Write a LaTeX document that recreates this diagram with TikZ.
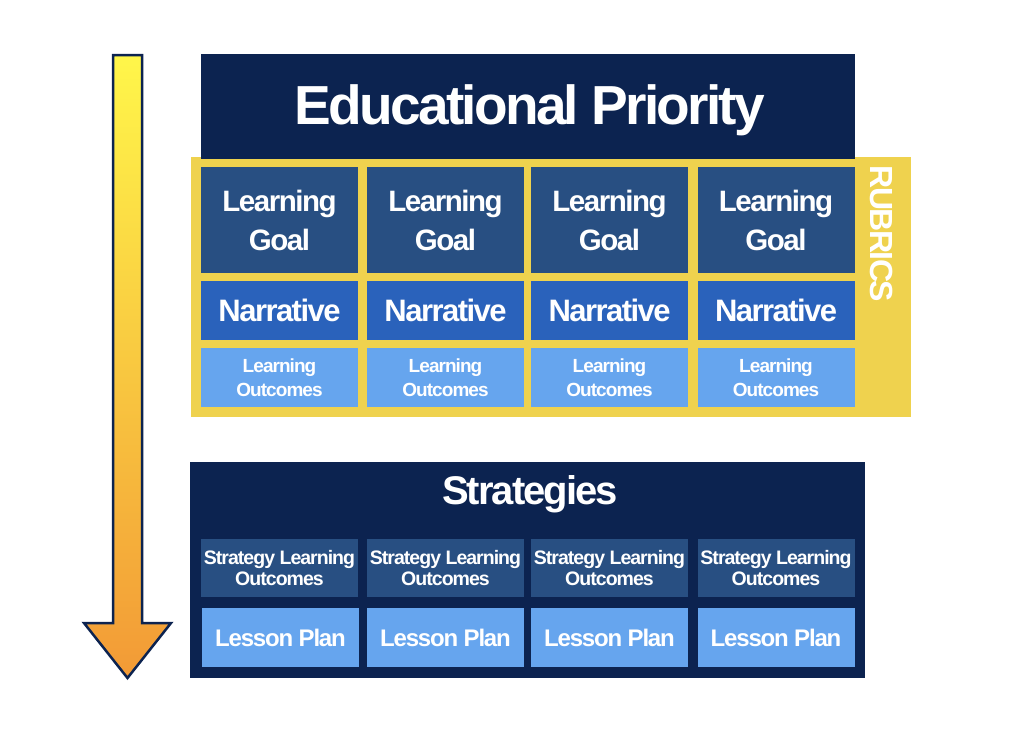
\documentclass[tikz,border=0pt]{standalone}
\usepackage{fontspec}
\setmainfont{Liberation Sans}[LetterSpace=-5]
\usepackage{tikz}
\definecolor{navy}{HTML}{0C2350}
\definecolor{goalblue}{HTML}{284F82}
\definecolor{narrblue}{HTML}{2A62BB}
\definecolor{lightblue}{HTML}{66A5EE}
\definecolor{rubricyellow}{HTML}{EFD24E}
\definecolor{arrowtop}{HTML}{FFF64A}
\definecolor{arrowbot}{HTML}{F29A36}
\tikzset{
    banner/.style = {rectangle, fill=navy, inner sep=0pt, outer sep=0pt},
    cell/.style = {rectangle, inner sep=0pt, outer sep=0pt, minimum width=157pt, text=white, align=center},
    goalcell/.style = {cell, fill=goalblue, minimum height=106pt, font=\fontsize{29.5}{39}\selectfont\bfseries},
    narrcell/.style = {cell, fill=narrblue, minimum height=59pt, font=\fontsize{31}{36}\selectfont\bfseries},
    outcell/.style = {cell, fill=lightblue, minimum height=59pt, font=\fontsize{19}{23.5}\selectfont\bfseries},
    slocell/.style = {cell, fill=goalblue, minimum height=58pt, font=\fontsize{19.5}{20.5}\selectfont\bfseries},
    plancell/.style = {cell, fill=lightblue, minimum height=59pt, font=\fontsize{24}{28}\selectfont\bfseries},
    heading/.style = {text=white, inner sep=0pt, font=\bfseries}
}
\begin{document}
\begin{tikzpicture}[x=1pt,y=-1pt]
\useasboundingbox (0,0) rectangle (1024,737);
%
% down arrow
\path[draw=navy, line width=2.5pt, line join=miter, top color=arrowtop, bottom color=arrowbot]
    (113,55) -- (142,55) -- (142,623) -- (171,623) -- (127.5,678) -- (84,623) -- (113,623) -- cycle;
%
% rubric frame and title
\node[rectangle, fill=rubricyellow, minimum width=720pt, minimum height=260pt, inner sep=0pt] at (551,287) (rubric) {};
\node[banner, minimum width=654pt, minimum height=105pt] at (528,106.5) (prio) {};
\node[heading, font=\fontsize{55}{60}\selectfont\bfseries] at (530,110) (priotext) {Educational Priority};
\node[heading, rotate=-90, font=\fontsize{32}{36}\selectfont\bfseries] at (882,234) (rubtext) {RUBRICS};
%
\node[goalcell] at (279.5,220) (g1) {Learning\\Goal};
\node[goalcell] at (445.5,220) (g2) {Learning\\Goal};
\node[goalcell] at (609.5,220) (g3) {Learning\\Goal};
\node[goalcell] at (776,220) (g4) {Learning\\Goal};
%
\node[narrcell] at (279.5,310.5) (n1) {Narrative};
\node[narrcell] at (445.5,310.5) (n2) {Narrative};
\node[narrcell] at (609.5,310.5) (n3) {Narrative};
\node[narrcell] at (776,310.5) (n4) {Narrative};
%
\node[outcell] at (279.5,377.5) (o1) {Learning\\Outcomes};
\node[outcell] at (445.5,377.5) (o2) {Learning\\Outcomes};
\node[outcell] at (609.5,377.5) (o3) {Learning\\Outcomes};
\node[outcell] at (776,377.5) (o4) {Learning\\Outcomes};
%
% strategies block
\node[banner, minimum width=675pt, minimum height=216pt] at (527.5,570) (strat) {};
\node[heading, font=\fontsize{40}{44}\selectfont\bfseries] at (530,494) (strattext) {Strategies};
%
\node[slocell] at (279.5,568) (s1) {Strategy Learning\\Outcomes};
\node[slocell] at (445.5,568) (s2) {Strategy Learning\\Outcomes};
\node[slocell] at (609.5,568) (s3) {Strategy Learning\\Outcomes};
\node[slocell] at (776,568) (s4) {Strategy Learning\\Outcomes};
%
\node[plancell] at (280.5,637.5) (p1) {Lesson Plan};
\node[plancell] at (445.5,637.5) (p2) {Lesson Plan};
\node[plancell] at (609.5,637.5) (p3) {Lesson Plan};
\node[plancell] at (776,637.5) (p4) {Lesson Plan};

\end{tikzpicture}
\end{document}
